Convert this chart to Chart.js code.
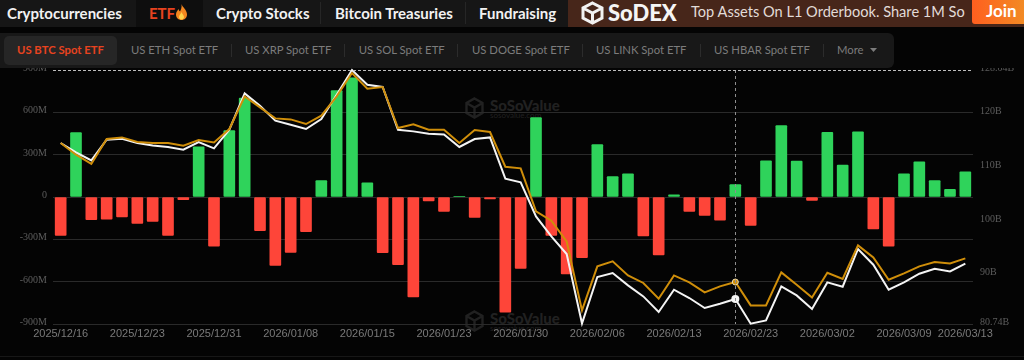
<!DOCTYPE html>
<html lang="en">
<head>
  <meta charset="UTF-8" />
  <title>US BTC Spot ETF</title>
  <script src="https://cdn.jsdelivr.net/npm/chart.js"></script>
  <style>
    html, body { margin: 0; background: #040404; overflow: hidden; }
    body { width: 1024px; height: 360px; position: relative; font-family: Lato, sans-serif; }
    canvas { position: absolute; left: 0; top: 0; z-index: 1; }
    .abs { position: absolute; white-space: nowrap; }
    #head { position: absolute; left: 0; top: 0; width: 1024px; height: 68px; background: #040404; z-index: 2; }
    #topbar { position: absolute; left: 0; top: 0; width: 1024px; height: 27px; background: #161616; }
    #topbar .abs { top: 3px; font-size: 15px; line-height: 20px; font-weight: 700; color: #f2f2f2; }
    #subnav { position: absolute; left: 0; top: 33px; width: 894px; height: 35px; background: #181818; border-radius: 0 6px 6px 0; }
    #subnav .abs { top: 9px; font-size: 11.3px; line-height: 16px; color: #7c7c7c; }
    #subnav .sep { top: 11px; width: 1px; height: 13px; background: #2c2c2c; }
    .mark { position: absolute; left: 465px; width: 110px; height: 34px; color: #212121; z-index: 0; }
    #bottomline { position: absolute; left: 0; top: 356px; width: 1024px; height: 1px; background: #171717; }
  </style>
</head>
<body>
  <div class="mark" style="top:95px">
    <svg class="abs" style="left:0;top:2px" width="19" height="22" viewBox="0 0 19 22" fill="none" stroke="#212121" stroke-width="2.4"><path d="M9.5 1.5 17.5 6v10l-8 4.5L1.5 16V6zM1.5 6l8 4.5L17.5 6M9.5 10.5v10"/></svg>
    <span class="abs" style="left:25px;top:0;font-size:15px;line-height:20px;font-weight:900">SoSoValue</span>
    <span class="abs" style="left:25px;top:16px;font-size:8px;line-height:9px">sosovalue.com</span>
  </div>
  <div class="mark" style="top:307.5px">
    <svg class="abs" style="left:0;top:2px" width="19" height="22" viewBox="0 0 19 22" fill="none" stroke="#212121" stroke-width="2.4"><path d="M9.5 1.5 17.5 6v10l-8 4.5L1.5 16V6zM1.5 6l8 4.5L17.5 6M9.5 10.5v10"/></svg>
    <span class="abs" style="left:25px;top:0;font-size:15px;line-height:20px;font-weight:900">SoSoValue</span>
    <span class="abs" style="left:25px;top:16px;font-size:8px;line-height:9px">sosovalue.com</span>
  </div>
  <canvas id="etfChart" width="1024" height="360"></canvas>
  <div id="bottomline"></div>
  <div id="head">
    <div id="topbar">
      <span class="abs" style="left:7px">Cryptocurrencies</span>
      <div class="abs" style="left:136px;top:0;width:67px;height:27px;background:#0e0e0e"></div>
      <span class="abs" style="left:149px;color:#e8431f">ETF</span>
      <svg class="abs" style="left:175px;top:4px" width="13" height="16" viewBox="0 0 13 16"><path d="M6.5 0C7 3 12 5.500 12 10.500 12 13.800 9.500 16 6.500 16S1 13.800 1 10.500C1 8 2.500 6.500 3.500 5 4 6.500 4.500 7 5 7.500 6 5.500 7 3 6.500 0z" fill="#f5871f"/><path d="M6.500 8C7 10 9 11 9 13 9 14.500 8 15.500 6.500 15.500S4 14.500 4 13C4 11 6 10 6.500 8z" fill="#ffd24a"/></svg>
      <span class="abs" style="left:216px">Crypto Stocks</span>
      <div class="abs" style="left:320px;top:2px;width:1px;height:22px;background:#262626"></div>
      <span class="abs" style="left:335px">Bitcoin Treasuries</span>
      <div class="abs" style="left:465px;top:2px;width:1px;height:22px;background:#262626"></div>
      <span class="abs" style="left:479px">Fundraising</span>
      <div class="abs" style="left:568px;top:0;width:456px;height:27px;background:#47261a"></div>
      <svg class="abs" style="left:581px;top:1px" width="23" height="24" viewBox="0 0 23 24" fill="none" stroke="#f2f2f2" stroke-width="3"><path d="M11.500 2 21 7v10l-9.500 5L2 17V7zM2 7l9.500 5L21 7M11.500 12v10"/></svg>
      <span class="abs" style="left:608px;top:0;font-size:22px;line-height:26px;font-weight:900;color:#f5f5f5">SoDEX</span>
      <span class="abs" style="left:691px;top:2px;font-size:14.6px;font-weight:400;color:#e2dcd8">Top Assets On L1 Orderbook. Share 1M So</span>
      <div class="abs" style="left:972px;top:0;width:52px;height:23.500px;background:linear-gradient(90deg,#ff5f1f,#f28a24);border-radius:0 0 0 3px"></div>
      <span class="abs" style="left:986px;top:1px;font-size:17px;color:#fff">Join</span>
    </div>
    <div id="subnav">
      <div class="abs" style="left:4px;top:3px;width:113px;height:29px;background:#262626;border-radius:5px"></div>
      <span class="abs" style="left:17px;color:#e8431f;font-weight:700">US BTC Spot ETF</span>
      <span class="abs" style="left:131px">US ETH Spot ETF</span>
      <div class="abs sep" style="left:231px"></div>
      <span class="abs" style="left:245px">US XRP Spot ETF</span>
      <div class="abs sep" style="left:344px"></div>
      <span class="abs" style="left:358.700px">US SOL Spot ETF</span>
      <div class="abs sep" style="left:457px"></div>
      <span class="abs" style="left:472px">US DOGE Spot ETF</span>
      <div class="abs sep" style="left:582px"></div>
      <span class="abs" style="left:596px">US LINK Spot ETF</span>
      <div class="abs sep" style="left:700px"></div>
      <span class="abs" style="left:714px">US HBAR Spot ETF</span>
      <div class="abs sep" style="left:823px"></div>
      <span class="abs" style="left:837px">More</span>
      <svg class="abs" style="left:870px;top:15px" width="7" height="4" viewBox="0 0 7 4"><path d="M0 0h7L3.500 4z" fill="#7c7c7c"/></svg>
    </div>
  </div>
  <script>
    const dates = [
      "2025/12/16","2025/12/17","2025/12/18","2025/12/19","2025/12/22","2025/12/23","2025/12/24","2025/12/26","2025/12/29","2025/12/30",
      "2025/12/31","2026/01/02","2026/01/05","2026/01/06","2026/01/07","2026/01/08","2026/01/09","2026/01/12","2026/01/13","2026/01/14",
      "2026/01/15","2026/01/16","2026/01/20","2026/01/21","2026/01/22","2026/01/23","2026/01/26","2026/01/27","2026/01/28","2026/01/29",
      "2026/01/30","2026/02/02","2026/02/03","2026/02/04","2026/02/05","2026/02/06","2026/02/09","2026/02/10","2026/02/11","2026/02/12",
      "2026/02/13","2026/02/17","2026/02/18","2026/02/19","2026/02/20","2026/02/23","2026/02/24","2026/02/25","2026/02/26","2026/02/27",
      "2026/03/02","2026/03/03","2026/03/04","2026/03/05","2026/03/06","2026/03/09","2026/03/10","2026/03/11","2026/03/12","2026/03/13"
    ];
    const shownDates = ["2025/12/16","2025/12/23","2025/12/31","2026/01/08","2026/01/15","2026/01/23","2026/01/30","2026/02/06","2026/02/13","2026/02/23","2026/03/02","2026/03/09","2026/03/13"];

    // 日次フロー (M)
    const netInflow = [
      -273,457,-160,-157,-142,-188,-173,-273,-19,355,
      -348,471,701,-238,-484,-393,-245,116,755,845,
      101,-394,-480,-708,-28,-103,5,-145,-14,-817,
      -507,562,-272,-545,-430,371,144,165,-276,-410,
      15,-103,-131,-165,88,-202,257,506,254,-25,
      459,226,462,-226,-348,165,250,116,54,179
    ];
    // 純資産 (B)
    const netAssets = [
      114.45,112.70,111.21,115.06,115.25,114.45,114.00,113.70,113.20,114.63,
      113.44,116.92,123.68,121.39,118.60,117.85,117.05,118.91,123.44,128.04,
      125.30,124.87,116.92,116.61,116.18,116.05,113.70,115.19,115.49,107.80,
      107.11,100.78,97.05,93.78,80.85,89.49,90.24,87.93,85.88,82.97,
      87.13,85.58,83.72,84.52,85.40,80.80,81.41,87.74,86.07,83.53,
      88.49,87.69,94.71,91.78,87.13,88.49,90.11,91.04,90.54,91.97
    ];
    const cumulativeLine = [
      114.45,112.27,110.54,115.19,115.49,114.63,114.45,114.45,113.94,115.00,
      114.56,117.05,123.12,121.08,119.03,118.84,117.98,119.53,123.12,127.48,
      124.56,124.87,117.24,117.91,116.92,116.92,114.45,116.87,116.49,110.03,
      109.72,101.71,99.98,96.12,83.27,91.47,92.40,89.79,88.38,85.45,
      89.79,88.49,86.62,87.74,88.56,84.20,84.20,90.35,88.06,85.69,
      90.29,89.12,95.38,93.14,88.99,90.16,91.47,92.29,92.03,92.96
    ];
    const leftTicks = [-900,-600,-300,0,300,600,900];
    const rightTicks = [80.74,90,100,110,120,128.04];
    const hoverIndex = 44;

    const GREEN = "#2fd35b";
    const RED = "#fe4539";

    // 上端の破線とホバー線
    const crosshair = {
      id: "crosshair",
      afterDatasetsDraw(chart) {
        const { ctx, chartArea, scales } = chart;
        const x = Math.round(scales.x.getPixelForValue(hoverIndex)) + 0.5;
        ctx.save();
        ctx.strokeStyle = "#8f8f8f";
        ctx.lineWidth = 1;
        ctx.setLineDash([3, 3]);
        ctx.beginPath();
        ctx.moveTo(x, chartArea.top);
        ctx.lineTo(x, chartArea.bottom);
        ctx.stroke();
        ctx.strokeStyle = "#bdbdbd";
        ctx.setLineDash([3, 2]);
        ctx.beginPath();
        ctx.moveTo(chartArea.left, chartArea.top + 0.5);
        ctx.lineTo(chartArea.right, chartArea.top + 0.5);
        ctx.stroke();
        ctx.restore();
      }
    };

    const hoverRadius = (c) => (c.dataIndex === hoverIndex ? 3 : 0);

    // ラベルを線より少し上にずらす (2行扱い + 小さいlineHeight)
    const axisFont = { family: "'Liberation Serif'", size: 10, lineHeight: 0.3 };

    new Chart(document.getElementById("etfChart"), {
      data: {
        labels: dates,
        datasets: [
          {
            type: "line",
            label: "Cumulative",
            data: cumulativeLine,
            yAxisID: "yR",
            borderColor: "#cf8e0a",
            borderWidth: 2,
            tension: 0,
            clip: false,
            pointRadius: hoverRadius,
            pointBackgroundColor: "#cf8e0a",
            pointBorderColor: "#e8d9b0",
            pointBorderWidth: 1,
            order: 1
          },
          {
            type: "line",
            label: "Net Assets",
            data: netAssets,
            yAxisID: "yR",
            borderColor: "#f4f4f4",
            borderWidth: 2,
            tension: 0,
            clip: false,
            pointRadius: hoverRadius,
            pointBackgroundColor: "#f4f4f4",
            pointBorderColor: "#f4f4f4",
            order: 2
          },
          {
            type: "bar",
            label: "Net Inflow",
            data: netInflow,
            yAxisID: "yL",
            backgroundColor: netInflow.map((v) => (v >= 0 ? GREEN : RED)),
            barThickness: 11,
            borderRadius: 1,
            borderSkipped: false,
            order: 3
          }
        ]
      },
      options: {
        responsive: false,
        animation: false,
        layout: { padding: { top: 70, bottom: 0, left: 0, right: 0 } },
        plugins: { legend: { display: false }, tooltip: { enabled: false } },
        scales: {
          x: {
            offset: true,
            grid: { display: false, drawTicks: false, tickLength: 0 },
            border: { display: false },
            afterFit(scale) { scale.height = 36; },
            ticks: {
              autoSkip: false,
              maxRotation: 0,
              padding: 3,
              color: "#7a7a7a",
              font: { family: "'Liberation Sans'", size: 11 },
              callback(value) {
                const d = this.getLabelForValue(value);
                return shownDates.includes(d) ? d : "";
              }
            }
          },
          yL: {
            position: "left",
            min: -900,
            max: 900,
            border: { display: false },
            afterFit(scale) { scale.width = 53; },
            afterBuildTicks(scale) { scale.ticks = leftTicks.map((v) => ({ value: v })); },
            grid: {
              drawTicks: false,
              color: (c) => (c.tick && c.tick.value === 900 ? "rgba(0,0,0,0)" : "#2a2a2a")
            },
            ticks: {
              padding: 6,
              color: "#5e5e5e",
              font: axisFont,
              callback: (v) => [v === 0 ? "0" : v + "M", ""]
            }
          },
          yR: {
            position: "right",
            min: 80.74,
            max: 128.04,
            border: { display: false },
            afterFit(scale) { scale.width = 51; },
            afterBuildTicks(scale) { scale.ticks = rightTicks.map((v) => ({ value: v })); },
            grid: { display: false, drawTicks: false },
            ticks: {
              padding: 7,
              color: "#5e5e5e",
              font: axisFont,
              callback: (v) => [v + "B", ""]
            }
          }
        }
      },
      plugins: [crosshair]
    });
  </script>
</body>
</html>
